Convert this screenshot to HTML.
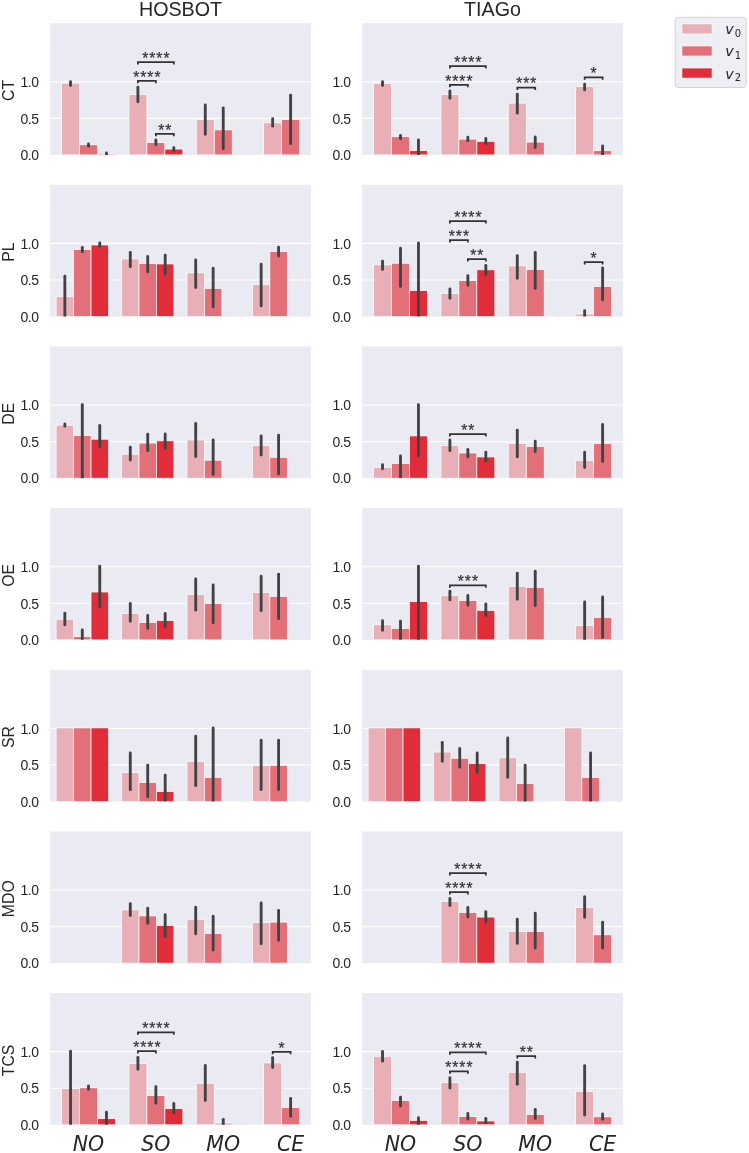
<!DOCTYPE html>
<html><head><meta charset="utf-8"><title>HOSBOT / TIAGo metrics</title>
<style>
html,body{margin:0;padding:0;background:#fff}
svg{display:block}
.s{font-family:"Liberation Sans",Arial,sans-serif}
.m{font-family:"DejaVu Sans",sans-serif;font-style:oblique}
</style></head><body>
<svg width="749" height="1153" viewBox="0 0 749 1153">
<rect width="749" height="1153" fill="#fff"/>
<clipPath id="c00"><rect x="50.1" y="23.2" width="260.8" height="131.7"/></clipPath>
<g>
<rect x="50.1" y="23.2" width="260.8" height="131.7" fill="#EAEAF2"/>
<line x1="50.1" x2="310.9" y1="118.3" y2="118.3" stroke="#fff" stroke-width="1.15"/>
<line x1="50.1" x2="310.9" y1="81.7" y2="81.7" stroke="#fff" stroke-width="1.15"/>
<text x="38.8" y="160.15" text-anchor="end" font-size="14" letter-spacing="-0.35" fill="#262626" class="s">0.0</text>
<text x="38.8" y="123.55" text-anchor="end" font-size="14" letter-spacing="-0.35" fill="#262626" class="s">0.5</text>
<text x="38.8" y="86.95" text-anchor="end" font-size="14" letter-spacing="-0.35" fill="#262626" class="s">1.0</text>
<rect x="61.56" y="83.2" width="17.96" height="71.7" fill="#E8B0B6" stroke="#fff" stroke-width="0.7"/>
<rect x="79.52" y="144.76" width="17.96" height="10.14" fill="#E37079" stroke="#fff" stroke-width="0.7"/>
<rect x="97.48" y="153.91" width="17.96" height="0.99" fill="#E02D39" stroke="#fff" stroke-width="0.7"/>
<rect x="128.93" y="94.48" width="17.96" height="60.42" fill="#E8B0B6" stroke="#fff" stroke-width="0.7"/>
<rect x="146.89" y="142.64" width="17.96" height="12.26" fill="#E37079" stroke="#fff" stroke-width="0.7"/>
<rect x="164.85" y="149.08" width="17.96" height="5.82" fill="#E02D39" stroke="#fff" stroke-width="0.7"/>
<rect x="196.3" y="119.44" width="17.96" height="35.46" fill="#E8B0B6" stroke="#fff" stroke-width="0.7"/>
<rect x="214.26" y="129.9" width="17.96" height="25" fill="#E37079" stroke="#fff" stroke-width="0.7"/>
<rect x="263.67" y="122.8" width="17.96" height="32.1" fill="#E8B0B6" stroke="#fff" stroke-width="0.7"/>
<rect x="281.63" y="119.44" width="17.96" height="35.46" fill="#E37079" stroke="#fff" stroke-width="0.7"/>
<line x1="70.54" x2="70.54" y1="85.39" y2="81.67" clip-path="url(#c00)" stroke="#424242" stroke-width="2.85" stroke-linecap="round"/>
<line x1="88.5" x2="88.5" y1="146.15" y2="143.89" clip-path="url(#c00)" stroke="#424242" stroke-width="2.85" stroke-linecap="round"/>
<line x1="106.46" x2="106.46" y1="155.3" y2="153.04" clip-path="url(#c00)" stroke="#424242" stroke-width="2.85" stroke-linecap="round"/>
<line x1="137.91" x2="137.91" y1="101.86" y2="87.16" clip-path="url(#c00)" stroke="#424242" stroke-width="2.85" stroke-linecap="round"/>
<line x1="155.87" x2="155.87" y1="144.69" y2="139.86" clip-path="url(#c00)" stroke="#424242" stroke-width="2.85" stroke-linecap="round"/>
<line x1="173.83" x2="173.83" y1="150.54" y2="147.55" clip-path="url(#c00)" stroke="#424242" stroke-width="2.85" stroke-linecap="round"/>
<line x1="205.28" x2="205.28" y1="134.22" y2="105.02" clip-path="url(#c00)" stroke="#424242" stroke-width="2.85" stroke-linecap="round"/>
<line x1="223.24" x2="223.24" y1="148.86" y2="107.8" clip-path="url(#c00)" stroke="#424242" stroke-width="2.85" stroke-linecap="round"/>
<line x1="272.65" x2="272.65" y1="126.17" y2="118.63" clip-path="url(#c00)" stroke="#424242" stroke-width="2.85" stroke-linecap="round"/>
<line x1="290.61" x2="290.61" y1="143.66" y2="95.21" clip-path="url(#c00)" stroke="#424242" stroke-width="2.85" stroke-linecap="round"/>
<path d="M137.91 83.25V80.85H155.87V83.25" fill="none" stroke="#333333" stroke-width="1.75" stroke-linejoin="miter"/>
<text x="147.39" y="82.65" text-anchor="middle" font-size="15.6" letter-spacing="1.0" fill="#333333" stroke="#333333" stroke-width="0.25" class="s">****</text>
<path d="M137.91 64.6V62.2H173.83V64.6" fill="none" stroke="#333333" stroke-width="1.75" stroke-linejoin="miter"/>
<text x="156.37" y="64" text-anchor="middle" font-size="15.6" letter-spacing="1.0" fill="#333333" stroke="#333333" stroke-width="0.25" class="s">****</text>
<path d="M155.87 136.2V133.8H173.83V136.2" fill="none" stroke="#333333" stroke-width="1.75" stroke-linejoin="miter"/>
<text x="165.35" y="135.6" text-anchor="middle" font-size="15.6" letter-spacing="1.0" fill="#333333" stroke="#333333" stroke-width="0.25" class="s">**</text>
</g>
<clipPath id="c01"><rect x="362.1" y="23.2" width="260.8" height="131.7"/></clipPath>
<g>
<rect x="362.1" y="23.2" width="260.8" height="131.7" fill="#EAEAF2"/>
<line x1="362.1" x2="622.9" y1="118.3" y2="118.3" stroke="#fff" stroke-width="1.15"/>
<line x1="362.1" x2="622.9" y1="81.7" y2="81.7" stroke="#fff" stroke-width="1.15"/>
<text x="350.8" y="160.15" text-anchor="end" font-size="14" letter-spacing="-0.35" fill="#262626" class="s">0.0</text>
<text x="350.8" y="123.55" text-anchor="end" font-size="14" letter-spacing="-0.35" fill="#262626" class="s">0.5</text>
<text x="350.8" y="86.95" text-anchor="end" font-size="14" letter-spacing="-0.35" fill="#262626" class="s">1.0</text>
<rect x="373.56" y="83.57" width="17.96" height="71.33" fill="#E8B0B6" stroke="#fff" stroke-width="0.7"/>
<rect x="391.52" y="136.71" width="17.96" height="18.19" fill="#E37079" stroke="#fff" stroke-width="0.7"/>
<rect x="409.48" y="150.69" width="17.96" height="4.21" fill="#E02D39" stroke="#fff" stroke-width="0.7"/>
<rect x="440.93" y="94.4" width="17.96" height="60.5" fill="#E8B0B6" stroke="#fff" stroke-width="0.7"/>
<rect x="458.89" y="139.13" width="17.96" height="15.77" fill="#E37079" stroke="#fff" stroke-width="0.7"/>
<rect x="476.85" y="141.32" width="17.96" height="13.58" fill="#E02D39" stroke="#fff" stroke-width="0.7"/>
<rect x="508.3" y="103.11" width="17.96" height="51.79" fill="#E8B0B6" stroke="#fff" stroke-width="0.7"/>
<rect x="526.26" y="142.13" width="17.96" height="12.77" fill="#E37079" stroke="#fff" stroke-width="0.7"/>
<rect x="575.67" y="86.5" width="17.96" height="68.4" fill="#E8B0B6" stroke="#fff" stroke-width="0.7"/>
<rect x="593.63" y="150.69" width="17.96" height="4.21" fill="#E37079" stroke="#fff" stroke-width="0.7"/>
<line x1="382.54" x2="382.54" y1="85.39" y2="81.67" clip-path="url(#c01)" stroke="#424242" stroke-width="2.85" stroke-linecap="round"/>
<line x1="400.5" x2="400.5" y1="138.83" y2="135.47" clip-path="url(#c01)" stroke="#424242" stroke-width="2.85" stroke-linecap="round"/>
<line x1="418.46" x2="418.46" y1="155.3" y2="139.86" clip-path="url(#c01)" stroke="#424242" stroke-width="2.85" stroke-linecap="round"/>
<line x1="449.91" x2="449.91" y1="98.28" y2="91.04" clip-path="url(#c01)" stroke="#424242" stroke-width="2.85" stroke-linecap="round"/>
<line x1="467.87" x2="467.87" y1="140.66" y2="137.22" clip-path="url(#c01)" stroke="#424242" stroke-width="2.85" stroke-linecap="round"/>
<line x1="485.83" x2="485.83" y1="143.59" y2="138.4" clip-path="url(#c01)" stroke="#424242" stroke-width="2.85" stroke-linecap="round"/>
<line x1="517.28" x2="517.28" y1="113.14" y2="94.18" clip-path="url(#c01)" stroke="#424242" stroke-width="2.85" stroke-linecap="round"/>
<line x1="535.24" x2="535.24" y1="147.47" y2="136.93" clip-path="url(#c01)" stroke="#424242" stroke-width="2.85" stroke-linecap="round"/>
<line x1="584.65" x2="584.65" y1="89.93" y2="84.08" clip-path="url(#c01)" stroke="#424242" stroke-width="2.85" stroke-linecap="round"/>
<line x1="602.61" x2="602.61" y1="155.3" y2="145.94" clip-path="url(#c01)" stroke="#424242" stroke-width="2.85" stroke-linecap="round"/>
<path d="M449.91 87.3V84.9H467.87V87.3" fill="none" stroke="#333333" stroke-width="1.75" stroke-linejoin="miter"/>
<text x="459.39" y="86.7" text-anchor="middle" font-size="15.6" letter-spacing="1.0" fill="#333333" stroke="#333333" stroke-width="0.25" class="s">****</text>
<path d="M449.91 68.5V66.1H485.83V68.5" fill="none" stroke="#333333" stroke-width="1.75" stroke-linejoin="miter"/>
<text x="468.37" y="67.9" text-anchor="middle" font-size="15.6" letter-spacing="1.0" fill="#333333" stroke="#333333" stroke-width="0.25" class="s">****</text>
<path d="M517.28 90V87.6H535.24V90" fill="none" stroke="#333333" stroke-width="1.75" stroke-linejoin="miter"/>
<text x="526.76" y="89.4" text-anchor="middle" font-size="15.6" letter-spacing="1.0" fill="#333333" stroke="#333333" stroke-width="0.25" class="s">***</text>
<path d="M584.65 79.8V77.4H602.61V79.8" fill="none" stroke="#333333" stroke-width="1.75" stroke-linejoin="miter"/>
<text x="594.13" y="79.2" text-anchor="middle" font-size="15.6" letter-spacing="1.0" fill="#333333" stroke="#333333" stroke-width="0.25" class="s">*</text>
</g>
<text transform="translate(14.0 90.5) rotate(-90)" text-anchor="middle" font-size="15.8" fill="#262626" class="s">CT</text>
<clipPath id="c10"><rect x="50.1" y="184.85" width="260.8" height="131.7"/></clipPath>
<g>
<rect x="50.1" y="184.85" width="260.8" height="131.7" fill="#EAEAF2"/>
<line x1="50.1" x2="310.9" y1="279.95" y2="279.95" stroke="#fff" stroke-width="1.15"/>
<line x1="50.1" x2="310.9" y1="243.35" y2="243.35" stroke="#fff" stroke-width="1.15"/>
<text x="38.8" y="321.8" text-anchor="end" font-size="14" letter-spacing="-0.35" fill="#262626" class="s">0.0</text>
<text x="38.8" y="285.2" text-anchor="end" font-size="14" letter-spacing="-0.35" fill="#262626" class="s">0.5</text>
<text x="38.8" y="248.6" text-anchor="end" font-size="14" letter-spacing="-0.35" fill="#262626" class="s">1.0</text>
<rect x="56.12" y="296.61" width="17.45" height="19.94" fill="#E8B0B6" stroke="#fff" stroke-width="0.7"/>
<rect x="73.58" y="249.54" width="17.45" height="67.01" fill="#E37079" stroke="#fff" stroke-width="0.7"/>
<rect x="91.03" y="245" width="17.45" height="71.55" fill="#E02D39" stroke="#fff" stroke-width="0.7"/>
<rect x="121.56" y="258.91" width="17.45" height="57.64" fill="#E8B0B6" stroke="#fff" stroke-width="0.7"/>
<rect x="139.01" y="263.45" width="17.45" height="53.1" fill="#E37079" stroke="#fff" stroke-width="0.7"/>
<rect x="156.46" y="263.96" width="17.45" height="52.59" fill="#E02D39" stroke="#fff" stroke-width="0.7"/>
<rect x="186.99" y="272.82" width="17.45" height="43.73" fill="#E8B0B6" stroke="#fff" stroke-width="0.7"/>
<rect x="204.44" y="288.41" width="17.45" height="28.14" fill="#E37079" stroke="#fff" stroke-width="0.7"/>
<rect x="252.42" y="284.75" width="17.45" height="31.8" fill="#E8B0B6" stroke="#fff" stroke-width="0.7"/>
<rect x="269.87" y="251.44" width="17.45" height="65.11" fill="#E37079" stroke="#fff" stroke-width="0.7"/>
<line x1="64.85" x2="64.85" y1="316.95" y2="276.26" clip-path="url(#c10)" stroke="#424242" stroke-width="2.85" stroke-linecap="round"/>
<line x1="82.3" x2="82.3" y1="251.8" y2="247.34" clip-path="url(#c10)" stroke="#424242" stroke-width="2.85" stroke-linecap="round"/>
<line x1="99.75" x2="99.75" y1="246.53" y2="242.95" clip-path="url(#c10)" stroke="#424242" stroke-width="2.85" stroke-linecap="round"/>
<line x1="130.28" x2="130.28" y1="266.66" y2="252.32" clip-path="url(#c10)" stroke="#424242" stroke-width="2.85" stroke-linecap="round"/>
<line x1="147.73" x2="147.73" y1="271.71" y2="256.49" clip-path="url(#c10)" stroke="#424242" stroke-width="2.85" stroke-linecap="round"/>
<line x1="165.18" x2="165.18" y1="273.98" y2="255.1" clip-path="url(#c10)" stroke="#424242" stroke-width="2.85" stroke-linecap="round"/>
<line x1="195.71" x2="195.71" y1="287.52" y2="259.93" clip-path="url(#c10)" stroke="#424242" stroke-width="2.85" stroke-linecap="round"/>
<line x1="213.16" x2="213.16" y1="306.78" y2="268.28" clip-path="url(#c10)" stroke="#424242" stroke-width="2.85" stroke-linecap="round"/>
<line x1="261.14" x2="261.14" y1="305.9" y2="264.1" clip-path="url(#c10)" stroke="#424242" stroke-width="2.85" stroke-linecap="round"/>
<line x1="278.59" x2="278.59" y1="256.05" y2="247.27" clip-path="url(#c10)" stroke="#424242" stroke-width="2.85" stroke-linecap="round"/>
</g>
<clipPath id="c11"><rect x="362.1" y="184.85" width="260.8" height="131.7"/></clipPath>
<g>
<rect x="362.1" y="184.85" width="260.8" height="131.7" fill="#EAEAF2"/>
<line x1="362.1" x2="622.9" y1="279.95" y2="279.95" stroke="#fff" stroke-width="1.15"/>
<line x1="362.1" x2="622.9" y1="243.35" y2="243.35" stroke="#fff" stroke-width="1.15"/>
<text x="350.8" y="321.8" text-anchor="end" font-size="14" letter-spacing="-0.35" fill="#262626" class="s">0.0</text>
<text x="350.8" y="285.2" text-anchor="end" font-size="14" letter-spacing="-0.35" fill="#262626" class="s">0.5</text>
<text x="350.8" y="248.6" text-anchor="end" font-size="14" letter-spacing="-0.35" fill="#262626" class="s">1.0</text>
<rect x="373.56" y="264.84" width="17.96" height="51.71" fill="#E8B0B6" stroke="#fff" stroke-width="0.7"/>
<rect x="391.52" y="263.23" width="17.96" height="53.32" fill="#E37079" stroke="#fff" stroke-width="0.7"/>
<rect x="409.48" y="290.53" width="17.96" height="26.02" fill="#E02D39" stroke="#fff" stroke-width="0.7"/>
<rect x="440.93" y="293.6" width="17.96" height="22.95" fill="#E8B0B6" stroke="#fff" stroke-width="0.7"/>
<rect x="458.89" y="280.57" width="17.96" height="35.98" fill="#E37079" stroke="#fff" stroke-width="0.7"/>
<rect x="476.85" y="269.81" width="17.96" height="46.74" fill="#E02D39" stroke="#fff" stroke-width="0.7"/>
<rect x="508.3" y="265.86" width="17.96" height="50.69" fill="#E8B0B6" stroke="#fff" stroke-width="0.7"/>
<rect x="526.26" y="269.52" width="17.96" height="47.03" fill="#E37079" stroke="#fff" stroke-width="0.7"/>
<rect x="575.67" y="313.95" width="17.96" height="2.6" fill="#E8B0B6" stroke="#fff" stroke-width="0.7"/>
<rect x="593.63" y="286.5" width="17.96" height="30.05" fill="#E37079" stroke="#fff" stroke-width="0.7"/>
<line x1="382.54" x2="382.54" y1="269.44" y2="261.18" clip-path="url(#c11)" stroke="#424242" stroke-width="2.85" stroke-linecap="round"/>
<line x1="400.5" x2="400.5" y1="286.43" y2="248.15" clip-path="url(#c11)" stroke="#424242" stroke-width="2.85" stroke-linecap="round"/>
<line x1="418.46" x2="418.46" y1="316.95" y2="242.95" clip-path="url(#c11)" stroke="#424242" stroke-width="2.85" stroke-linecap="round"/>
<line x1="449.91" x2="449.91" y1="298.28" y2="288.99" clip-path="url(#c11)" stroke="#424242" stroke-width="2.85" stroke-linecap="round"/>
<line x1="467.87" x2="467.87" y1="285.25" y2="275.6" clip-path="url(#c11)" stroke="#424242" stroke-width="2.85" stroke-linecap="round"/>
<line x1="485.83" x2="485.83" y1="274.49" y2="265.35" clip-path="url(#c11)" stroke="#424242" stroke-width="2.85" stroke-linecap="round"/>
<line x1="517.28" x2="517.28" y1="278.3" y2="255.61" clip-path="url(#c11)" stroke="#424242" stroke-width="2.85" stroke-linecap="round"/>
<line x1="535.24" x2="535.24" y1="288.33" y2="252.32" clip-path="url(#c11)" stroke="#424242" stroke-width="2.85" stroke-linecap="round"/>
<line x1="584.65" x2="584.65" y1="316.95" y2="310.66" clip-path="url(#c11)" stroke="#424242" stroke-width="2.85" stroke-linecap="round"/>
<line x1="602.61" x2="602.61" y1="299.82" y2="267.91" clip-path="url(#c11)" stroke="#424242" stroke-width="2.85" stroke-linecap="round"/>
<path d="M449.91 223.4V221H485.83V223.4" fill="none" stroke="#333333" stroke-width="1.75" stroke-linejoin="miter"/>
<text x="468.37" y="222.8" text-anchor="middle" font-size="15.6" letter-spacing="1.0" fill="#333333" stroke="#333333" stroke-width="0.25" class="s">****</text>
<path d="M449.91 242.5V240.1H467.87V242.5" fill="none" stroke="#333333" stroke-width="1.75" stroke-linejoin="miter"/>
<text x="459.39" y="241.9" text-anchor="middle" font-size="15.6" letter-spacing="1.0" fill="#333333" stroke="#333333" stroke-width="0.25" class="s">***</text>
<path d="M467.87 261.4V259H485.83V261.4" fill="none" stroke="#333333" stroke-width="1.75" stroke-linejoin="miter"/>
<text x="477.35" y="260.8" text-anchor="middle" font-size="15.6" letter-spacing="1.0" fill="#333333" stroke="#333333" stroke-width="0.25" class="s">**</text>
<path d="M584.65 264.4V262H602.61V264.4" fill="none" stroke="#333333" stroke-width="1.75" stroke-linejoin="miter"/>
<text x="594.13" y="263.8" text-anchor="middle" font-size="15.6" letter-spacing="1.0" fill="#333333" stroke="#333333" stroke-width="0.25" class="s">*</text>
</g>
<text transform="translate(14.0 252.15) rotate(-90)" text-anchor="middle" font-size="15.8" fill="#262626" class="s">PL</text>
<clipPath id="c20"><rect x="50.1" y="346.5" width="260.8" height="131.7"/></clipPath>
<g>
<rect x="50.1" y="346.5" width="260.8" height="131.7" fill="#EAEAF2"/>
<line x1="50.1" x2="310.9" y1="441.6" y2="441.6" stroke="#fff" stroke-width="1.15"/>
<line x1="50.1" x2="310.9" y1="405" y2="405" stroke="#fff" stroke-width="1.15"/>
<text x="38.8" y="483.45" text-anchor="end" font-size="14" letter-spacing="-0.35" fill="#262626" class="s">0.0</text>
<text x="38.8" y="446.85" text-anchor="end" font-size="14" letter-spacing="-0.35" fill="#262626" class="s">0.5</text>
<text x="38.8" y="410.25" text-anchor="end" font-size="14" letter-spacing="-0.35" fill="#262626" class="s">1.0</text>
<rect x="56.12" y="425.17" width="17.45" height="53.03" fill="#E8B0B6" stroke="#fff" stroke-width="0.7"/>
<rect x="73.58" y="435.64" width="17.45" height="42.56" fill="#E37079" stroke="#fff" stroke-width="0.7"/>
<rect x="91.03" y="439.22" width="17.45" height="38.98" fill="#E02D39" stroke="#fff" stroke-width="0.7"/>
<rect x="121.56" y="454.16" width="17.45" height="24.04" fill="#E8B0B6" stroke="#fff" stroke-width="0.7"/>
<rect x="139.01" y="443.1" width="17.45" height="35.1" fill="#E37079" stroke="#fff" stroke-width="0.7"/>
<rect x="156.46" y="440.83" width="17.45" height="37.37" fill="#E02D39" stroke="#fff" stroke-width="0.7"/>
<rect x="186.99" y="439.96" width="17.45" height="38.24" fill="#E8B0B6" stroke="#fff" stroke-width="0.7"/>
<rect x="204.44" y="460.23" width="17.45" height="17.97" fill="#E37079" stroke="#fff" stroke-width="0.7"/>
<rect x="252.42" y="445.52" width="17.45" height="32.68" fill="#E8B0B6" stroke="#fff" stroke-width="0.7"/>
<rect x="269.87" y="457.3" width="17.45" height="20.9" fill="#E37079" stroke="#fff" stroke-width="0.7"/>
<line x1="64.85" x2="64.85" y1="426.19" y2="424" clip-path="url(#c20)" stroke="#424242" stroke-width="2.85" stroke-linecap="round"/>
<line x1="82.3" x2="82.3" y1="478.6" y2="404.6" clip-path="url(#c20)" stroke="#424242" stroke-width="2.85" stroke-linecap="round"/>
<line x1="99.75" x2="99.75" y1="446.47" y2="425.54" clip-path="url(#c20)" stroke="#424242" stroke-width="2.85" stroke-linecap="round"/>
<line x1="130.28" x2="130.28" y1="460.01" y2="447.28" clip-path="url(#c20)" stroke="#424242" stroke-width="2.85" stroke-linecap="round"/>
<line x1="147.73" x2="147.73" y1="450.64" y2="434.25" clip-path="url(#c20)" stroke="#424242" stroke-width="2.85" stroke-linecap="round"/>
<line x1="165.18" x2="165.18" y1="448.22" y2="433.88" clip-path="url(#c20)" stroke="#424242" stroke-width="2.85" stroke-linecap="round"/>
<line x1="195.71" x2="195.71" y1="456.57" y2="423.49" clip-path="url(#c20)" stroke="#424242" stroke-width="2.85" stroke-linecap="round"/>
<line x1="213.16" x2="213.16" y1="474.43" y2="439.96" clip-path="url(#c20)" stroke="#424242" stroke-width="2.85" stroke-linecap="round"/>
<line x1="261.14" x2="261.14" y1="454.96" y2="436" clip-path="url(#c20)" stroke="#424242" stroke-width="2.85" stroke-linecap="round"/>
<line x1="278.59" x2="278.59" y1="473.92" y2="435.12" clip-path="url(#c20)" stroke="#424242" stroke-width="2.85" stroke-linecap="round"/>
</g>
<clipPath id="c21"><rect x="362.1" y="346.5" width="260.8" height="131.7"/></clipPath>
<g>
<rect x="362.1" y="346.5" width="260.8" height="131.7" fill="#EAEAF2"/>
<line x1="362.1" x2="622.9" y1="441.6" y2="441.6" stroke="#fff" stroke-width="1.15"/>
<line x1="362.1" x2="622.9" y1="405" y2="405" stroke="#fff" stroke-width="1.15"/>
<text x="350.8" y="483.45" text-anchor="end" font-size="14" letter-spacing="-0.35" fill="#262626" class="s">0.0</text>
<text x="350.8" y="446.85" text-anchor="end" font-size="14" letter-spacing="-0.35" fill="#262626" class="s">0.5</text>
<text x="350.8" y="410.25" text-anchor="end" font-size="14" letter-spacing="-0.35" fill="#262626" class="s">1.0</text>
<rect x="373.56" y="467.41" width="17.96" height="10.79" fill="#E8B0B6" stroke="#fff" stroke-width="0.7"/>
<rect x="391.52" y="463.6" width="17.96" height="14.6" fill="#E37079" stroke="#fff" stroke-width="0.7"/>
<rect x="409.48" y="435.93" width="17.96" height="42.27" fill="#E02D39" stroke="#fff" stroke-width="0.7"/>
<rect x="440.93" y="445.52" width="17.96" height="32.68" fill="#E8B0B6" stroke="#fff" stroke-width="0.7"/>
<rect x="458.89" y="452.99" width="17.96" height="25.21" fill="#E37079" stroke="#fff" stroke-width="0.7"/>
<rect x="476.85" y="456.94" width="17.96" height="21.26" fill="#E02D39" stroke="#fff" stroke-width="0.7"/>
<rect x="508.3" y="443.4" width="17.96" height="34.8" fill="#E8B0B6" stroke="#fff" stroke-width="0.7"/>
<rect x="526.26" y="446.4" width="17.96" height="31.8" fill="#E37079" stroke="#fff" stroke-width="0.7"/>
<rect x="575.67" y="460.45" width="17.96" height="17.75" fill="#E8B0B6" stroke="#fff" stroke-width="0.7"/>
<rect x="593.63" y="443.4" width="17.96" height="34.8" fill="#E37079" stroke="#fff" stroke-width="0.7"/>
<line x1="382.54" x2="382.54" y1="468.72" y2="464.77" clip-path="url(#c21)" stroke="#424242" stroke-width="2.85" stroke-linecap="round"/>
<line x1="400.5" x2="400.5" y1="477.14" y2="455.91" clip-path="url(#c21)" stroke="#424242" stroke-width="2.85" stroke-linecap="round"/>
<line x1="418.46" x2="418.46" y1="455.91" y2="404.6" clip-path="url(#c21)" stroke="#424242" stroke-width="2.85" stroke-linecap="round"/>
<line x1="449.91" x2="449.91" y1="450.64" y2="439.96" clip-path="url(#c21)" stroke="#424242" stroke-width="2.85" stroke-linecap="round"/>
<line x1="467.87" x2="467.87" y1="457.08" y2="449.33" clip-path="url(#c21)" stroke="#424242" stroke-width="2.85" stroke-linecap="round"/>
<line x1="485.83" x2="485.83" y1="461.03" y2="452.11" clip-path="url(#c21)" stroke="#424242" stroke-width="2.85" stroke-linecap="round"/>
<line x1="517.28" x2="517.28" y1="456.71" y2="430.07" clip-path="url(#c21)" stroke="#424242" stroke-width="2.85" stroke-linecap="round"/>
<line x1="535.24" x2="535.24" y1="451.66" y2="441.2" clip-path="url(#c21)" stroke="#424242" stroke-width="2.85" stroke-linecap="round"/>
<line x1="584.65" x2="584.65" y1="467.47" y2="452.11" clip-path="url(#c21)" stroke="#424242" stroke-width="2.85" stroke-linecap="round"/>
<line x1="602.61" x2="602.61" y1="461.4" y2="424.51" clip-path="url(#c21)" stroke="#424242" stroke-width="2.85" stroke-linecap="round"/>
<path d="M449.91 436.4V434H485.83V436.4" fill="none" stroke="#333333" stroke-width="1.75" stroke-linejoin="miter"/>
<text x="468.37" y="435.8" text-anchor="middle" font-size="15.6" letter-spacing="1.0" fill="#333333" stroke="#333333" stroke-width="0.25" class="s">**</text>
</g>
<text transform="translate(14.0 413.8) rotate(-90)" text-anchor="middle" font-size="15.8" fill="#262626" class="s">DE</text>
<clipPath id="c30"><rect x="50.1" y="508.15" width="260.8" height="131.7"/></clipPath>
<g>
<rect x="50.1" y="508.15" width="260.8" height="131.7" fill="#EAEAF2"/>
<line x1="50.1" x2="310.9" y1="603.25" y2="603.25" stroke="#fff" stroke-width="1.15"/>
<line x1="50.1" x2="310.9" y1="566.65" y2="566.65" stroke="#fff" stroke-width="1.15"/>
<text x="38.8" y="645.1" text-anchor="end" font-size="14" letter-spacing="-0.35" fill="#262626" class="s">0.0</text>
<text x="38.8" y="608.5" text-anchor="end" font-size="14" letter-spacing="-0.35" fill="#262626" class="s">0.5</text>
<text x="38.8" y="571.9" text-anchor="end" font-size="14" letter-spacing="-0.35" fill="#262626" class="s">1.0</text>
<rect x="56.12" y="619.25" width="17.45" height="20.6" fill="#E8B0B6" stroke="#fff" stroke-width="0.7"/>
<rect x="73.58" y="636.67" width="17.45" height="3.18" fill="#E37079" stroke="#fff" stroke-width="0.7"/>
<rect x="91.03" y="592.02" width="17.45" height="47.83" fill="#E02D39" stroke="#fff" stroke-width="0.7"/>
<rect x="121.56" y="613.54" width="17.45" height="26.31" fill="#E8B0B6" stroke="#fff" stroke-width="0.7"/>
<rect x="139.01" y="622.39" width="17.45" height="17.46" fill="#E37079" stroke="#fff" stroke-width="0.7"/>
<rect x="156.46" y="620.49" width="17.45" height="19.36" fill="#E02D39" stroke="#fff" stroke-width="0.7"/>
<rect x="186.99" y="594.43" width="17.45" height="45.42" fill="#E8B0B6" stroke="#fff" stroke-width="0.7"/>
<rect x="204.44" y="603.66" width="17.45" height="36.19" fill="#E37079" stroke="#fff" stroke-width="0.7"/>
<rect x="252.42" y="592.38" width="17.45" height="47.47" fill="#E8B0B6" stroke="#fff" stroke-width="0.7"/>
<rect x="269.87" y="596.34" width="17.45" height="43.51" fill="#E37079" stroke="#fff" stroke-width="0.7"/>
<line x1="64.85" x2="64.85" y1="624.73" y2="613.17" clip-path="url(#c30)" stroke="#424242" stroke-width="2.85" stroke-linecap="round"/>
<line x1="82.3" x2="82.3" y1="640.25" y2="629.86" clip-path="url(#c30)" stroke="#424242" stroke-width="2.85" stroke-linecap="round"/>
<line x1="99.75" x2="99.75" y1="607.02" y2="566.25" clip-path="url(#c30)" stroke="#424242" stroke-width="2.85" stroke-linecap="round"/>
<line x1="130.28" x2="130.28" y1="621.29" y2="603.51" clip-path="url(#c30)" stroke="#424242" stroke-width="2.85" stroke-linecap="round"/>
<line x1="147.73" x2="147.73" y1="628.39" y2="615.44" clip-path="url(#c30)" stroke="#424242" stroke-width="2.85" stroke-linecap="round"/>
<line x1="165.18" x2="165.18" y1="626.49" y2="613.39" clip-path="url(#c30)" stroke="#424242" stroke-width="2.85" stroke-linecap="round"/>
<line x1="195.71" x2="195.71" y1="610.16" y2="578.99" clip-path="url(#c30)" stroke="#424242" stroke-width="2.85" stroke-linecap="round"/>
<line x1="213.16" x2="213.16" y1="622.83" y2="584.92" clip-path="url(#c30)" stroke="#424242" stroke-width="2.85" stroke-linecap="round"/>
<line x1="261.14" x2="261.14" y1="610.68" y2="576.21" clip-path="url(#c30)" stroke="#424242" stroke-width="2.85" stroke-linecap="round"/>
<line x1="278.59" x2="278.59" y1="618.66" y2="574.16" clip-path="url(#c30)" stroke="#424242" stroke-width="2.85" stroke-linecap="round"/>
</g>
<clipPath id="c31"><rect x="362.1" y="508.15" width="260.8" height="131.7"/></clipPath>
<g>
<rect x="362.1" y="508.15" width="260.8" height="131.7" fill="#EAEAF2"/>
<line x1="362.1" x2="622.9" y1="603.25" y2="603.25" stroke="#fff" stroke-width="1.15"/>
<line x1="362.1" x2="622.9" y1="566.65" y2="566.65" stroke="#fff" stroke-width="1.15"/>
<text x="350.8" y="645.1" text-anchor="end" font-size="14" letter-spacing="-0.35" fill="#262626" class="s">0.0</text>
<text x="350.8" y="608.5" text-anchor="end" font-size="14" letter-spacing="-0.35" fill="#262626" class="s">0.5</text>
<text x="350.8" y="571.9" text-anchor="end" font-size="14" letter-spacing="-0.35" fill="#262626" class="s">1.0</text>
<rect x="373.56" y="624.81" width="17.96" height="15.04" fill="#E8B0B6" stroke="#fff" stroke-width="0.7"/>
<rect x="391.52" y="628.47" width="17.96" height="11.38" fill="#E37079" stroke="#fff" stroke-width="0.7"/>
<rect x="409.48" y="601.53" width="17.96" height="38.32" fill="#E02D39" stroke="#fff" stroke-width="0.7"/>
<rect x="440.93" y="595.68" width="17.96" height="44.17" fill="#E8B0B6" stroke="#fff" stroke-width="0.7"/>
<rect x="458.89" y="600.51" width="17.96" height="39.34" fill="#E37079" stroke="#fff" stroke-width="0.7"/>
<rect x="476.85" y="610.39" width="17.96" height="29.46" fill="#E02D39" stroke="#fff" stroke-width="0.7"/>
<rect x="508.3" y="586.31" width="17.96" height="53.54" fill="#E8B0B6" stroke="#fff" stroke-width="0.7"/>
<rect x="526.26" y="587.33" width="17.96" height="52.52" fill="#E37079" stroke="#fff" stroke-width="0.7"/>
<rect x="575.67" y="625.69" width="17.96" height="14.16" fill="#E8B0B6" stroke="#fff" stroke-width="0.7"/>
<rect x="593.63" y="617.34" width="17.96" height="22.51" fill="#E37079" stroke="#fff" stroke-width="0.7"/>
<line x1="382.54" x2="382.54" y1="630.29" y2="620.64" clip-path="url(#c31)" stroke="#424242" stroke-width="2.85" stroke-linecap="round"/>
<line x1="400.5" x2="400.5" y1="640.25" y2="621.22" clip-path="url(#c31)" stroke="#424242" stroke-width="2.85" stroke-linecap="round"/>
<line x1="418.46" x2="418.46" y1="640.25" y2="566.25" clip-path="url(#c31)" stroke="#424242" stroke-width="2.85" stroke-linecap="round"/>
<line x1="449.91" x2="449.91" y1="599.92" y2="591.14" clip-path="url(#c31)" stroke="#424242" stroke-width="2.85" stroke-linecap="round"/>
<line x1="467.87" x2="467.87" y1="605.33" y2="595.46" clip-path="url(#c31)" stroke="#424242" stroke-width="2.85" stroke-linecap="round"/>
<line x1="485.83" x2="485.83" y1="615.58" y2="604.02" clip-path="url(#c31)" stroke="#424242" stroke-width="2.85" stroke-linecap="round"/>
<line x1="517.28" x2="517.28" y1="599.26" y2="573.28" clip-path="url(#c31)" stroke="#424242" stroke-width="2.85" stroke-linecap="round"/>
<line x1="535.24" x2="535.24" y1="605.48" y2="571.15" clip-path="url(#c31)" stroke="#424242" stroke-width="2.85" stroke-linecap="round"/>
<line x1="584.65" x2="584.65" y1="640.25" y2="601.9" clip-path="url(#c31)" stroke="#424242" stroke-width="2.85" stroke-linecap="round"/>
<line x1="602.61" x2="602.61" y1="637.61" y2="596.92" clip-path="url(#c31)" stroke="#424242" stroke-width="2.85" stroke-linecap="round"/>
<path d="M449.91 587.7V585.3H485.83V587.7" fill="none" stroke="#333333" stroke-width="1.75" stroke-linejoin="miter"/>
<text x="468.37" y="587.1" text-anchor="middle" font-size="15.6" letter-spacing="1.0" fill="#333333" stroke="#333333" stroke-width="0.25" class="s">***</text>
</g>
<text transform="translate(14.0 575.45) rotate(-90)" text-anchor="middle" font-size="15.8" fill="#262626" class="s">OE</text>
<clipPath id="c40"><rect x="50.1" y="669.8" width="260.8" height="131.7"/></clipPath>
<g>
<rect x="50.1" y="669.8" width="260.8" height="131.7" fill="#EAEAF2"/>
<line x1="50.1" x2="310.9" y1="764.9" y2="764.9" stroke="#fff" stroke-width="1.15"/>
<line x1="50.1" x2="310.9" y1="728.3" y2="728.3" stroke="#fff" stroke-width="1.15"/>
<text x="38.8" y="806.75" text-anchor="end" font-size="14" letter-spacing="-0.35" fill="#262626" class="s">0.0</text>
<text x="38.8" y="770.15" text-anchor="end" font-size="14" letter-spacing="-0.35" fill="#262626" class="s">0.5</text>
<text x="38.8" y="733.55" text-anchor="end" font-size="14" letter-spacing="-0.35" fill="#262626" class="s">1.0</text>
<rect x="56.12" y="727.9" width="17.45" height="73.6" fill="#E8B0B6" stroke="#fff" stroke-width="0.7"/>
<rect x="73.58" y="727.9" width="17.45" height="73.6" fill="#E37079" stroke="#fff" stroke-width="0.7"/>
<rect x="91.03" y="727.9" width="17.45" height="73.6" fill="#E02D39" stroke="#fff" stroke-width="0.7"/>
<rect x="121.56" y="772.55" width="17.45" height="28.95" fill="#E8B0B6" stroke="#fff" stroke-width="0.7"/>
<rect x="139.01" y="782.43" width="17.45" height="19.07" fill="#E37079" stroke="#fff" stroke-width="0.7"/>
<rect x="156.46" y="791.44" width="17.45" height="10.06" fill="#E02D39" stroke="#fff" stroke-width="0.7"/>
<rect x="186.99" y="761.28" width="17.45" height="40.22" fill="#E8B0B6" stroke="#fff" stroke-width="0.7"/>
<rect x="204.44" y="777.38" width="17.45" height="24.12" fill="#E37079" stroke="#fff" stroke-width="0.7"/>
<rect x="252.42" y="765.45" width="17.45" height="36.05" fill="#E8B0B6" stroke="#fff" stroke-width="0.7"/>
<rect x="269.87" y="765.45" width="17.45" height="36.05" fill="#E37079" stroke="#fff" stroke-width="0.7"/>
<line x1="130.28" x2="130.28" y1="789.68" y2="752.93" clip-path="url(#c40)" stroke="#424242" stroke-width="2.85" stroke-linecap="round"/>
<line x1="147.73" x2="147.73" y1="796.78" y2="765.09" clip-path="url(#c40)" stroke="#424242" stroke-width="2.85" stroke-linecap="round"/>
<line x1="165.18" x2="165.18" y1="801.9" y2="775.11" clip-path="url(#c40)" stroke="#424242" stroke-width="2.85" stroke-linecap="round"/>
<line x1="195.71" x2="195.71" y1="785.65" y2="736.1" clip-path="url(#c40)" stroke="#424242" stroke-width="2.85" stroke-linecap="round"/>
<line x1="213.16" x2="213.16" y1="801.9" y2="727.9" clip-path="url(#c40)" stroke="#424242" stroke-width="2.85" stroke-linecap="round"/>
<line x1="261.14" x2="261.14" y1="789.68" y2="740.27" clip-path="url(#c40)" stroke="#424242" stroke-width="2.85" stroke-linecap="round"/>
<line x1="278.59" x2="278.59" y1="789.68" y2="740.27" clip-path="url(#c40)" stroke="#424242" stroke-width="2.85" stroke-linecap="round"/>
</g>
<clipPath id="c41"><rect x="362.1" y="669.8" width="260.8" height="131.7"/></clipPath>
<g>
<rect x="362.1" y="669.8" width="260.8" height="131.7" fill="#EAEAF2"/>
<line x1="362.1" x2="622.9" y1="764.9" y2="764.9" stroke="#fff" stroke-width="1.15"/>
<line x1="362.1" x2="622.9" y1="728.3" y2="728.3" stroke="#fff" stroke-width="1.15"/>
<text x="350.8" y="806.75" text-anchor="end" font-size="14" letter-spacing="-0.35" fill="#262626" class="s">0.0</text>
<text x="350.8" y="770.15" text-anchor="end" font-size="14" letter-spacing="-0.35" fill="#262626" class="s">0.5</text>
<text x="350.8" y="733.55" text-anchor="end" font-size="14" letter-spacing="-0.35" fill="#262626" class="s">1.0</text>
<rect x="368.12" y="727.9" width="17.45" height="73.6" fill="#E8B0B6" stroke="#fff" stroke-width="0.7"/>
<rect x="385.57" y="727.9" width="17.45" height="73.6" fill="#E37079" stroke="#fff" stroke-width="0.7"/>
<rect x="403.02" y="727.9" width="17.45" height="73.6" fill="#E02D39" stroke="#fff" stroke-width="0.7"/>
<rect x="433.56" y="752.06" width="17.45" height="49.44" fill="#E8B0B6" stroke="#fff" stroke-width="0.7"/>
<rect x="451" y="758.28" width="17.45" height="43.22" fill="#E37079" stroke="#fff" stroke-width="0.7"/>
<rect x="468.45" y="763.69" width="17.45" height="37.81" fill="#E02D39" stroke="#fff" stroke-width="0.7"/>
<rect x="498.99" y="757.77" width="17.45" height="43.73" fill="#E8B0B6" stroke="#fff" stroke-width="0.7"/>
<rect x="516.44" y="783.46" width="17.45" height="18.04" fill="#E37079" stroke="#fff" stroke-width="0.7"/>
<rect x="564.41" y="727.9" width="17.45" height="73.6" fill="#E8B0B6" stroke="#fff" stroke-width="0.7"/>
<rect x="581.87" y="777.38" width="17.45" height="24.12" fill="#E37079" stroke="#fff" stroke-width="0.7"/>
<line x1="442.28" x2="442.28" y1="761.2" y2="742.32" clip-path="url(#c41)" stroke="#424242" stroke-width="2.85" stroke-linecap="round"/>
<line x1="459.73" x2="459.73" y1="767.28" y2="748.4" clip-path="url(#c41)" stroke="#424242" stroke-width="2.85" stroke-linecap="round"/>
<line x1="477.18" x2="477.18" y1="772.62" y2="752.93" clip-path="url(#c41)" stroke="#424242" stroke-width="2.85" stroke-linecap="round"/>
<line x1="507.71" x2="507.71" y1="777.3" y2="738" clip-path="url(#c41)" stroke="#424242" stroke-width="2.85" stroke-linecap="round"/>
<line x1="525.16" x2="525.16" y1="801.9" y2="765.09" clip-path="url(#c41)" stroke="#424242" stroke-width="2.85" stroke-linecap="round"/>
<line x1="590.59" x2="590.59" y1="801.9" y2="752.93" clip-path="url(#c41)" stroke="#424242" stroke-width="2.85" stroke-linecap="round"/>
</g>
<text transform="translate(14.0 737.1) rotate(-90)" text-anchor="middle" font-size="15.8" fill="#262626" class="s">SR</text>
<clipPath id="c50"><rect x="50.1" y="831.45" width="260.8" height="131.7"/></clipPath>
<g>
<rect x="50.1" y="831.45" width="260.8" height="131.7" fill="#EAEAF2"/>
<line x1="50.1" x2="310.9" y1="926.55" y2="926.55" stroke="#fff" stroke-width="1.15"/>
<line x1="50.1" x2="310.9" y1="889.95" y2="889.95" stroke="#fff" stroke-width="1.15"/>
<text x="38.8" y="968.4" text-anchor="end" font-size="14" letter-spacing="-0.35" fill="#262626" class="s">0.0</text>
<text x="38.8" y="931.8" text-anchor="end" font-size="14" letter-spacing="-0.35" fill="#262626" class="s">0.5</text>
<text x="38.8" y="895.2" text-anchor="end" font-size="14" letter-spacing="-0.35" fill="#262626" class="s">1.0</text>
<rect x="121.56" y="909.83" width="17.45" height="53.32" fill="#E8B0B6" stroke="#fff" stroke-width="0.7"/>
<rect x="139.01" y="915.9" width="17.45" height="47.25" fill="#E37079" stroke="#fff" stroke-width="0.7"/>
<rect x="156.46" y="925.42" width="17.45" height="37.73" fill="#E02D39" stroke="#fff" stroke-width="0.7"/>
<rect x="186.99" y="919.34" width="17.45" height="43.81" fill="#E8B0B6" stroke="#fff" stroke-width="0.7"/>
<rect x="204.44" y="933.47" width="17.45" height="29.68" fill="#E37079" stroke="#fff" stroke-width="0.7"/>
<rect x="252.42" y="922.64" width="17.45" height="40.51" fill="#E8B0B6" stroke="#fff" stroke-width="0.7"/>
<rect x="269.87" y="922.12" width="17.45" height="41.03" fill="#E37079" stroke="#fff" stroke-width="0.7"/>
<line x1="130.28" x2="130.28" y1="915.6" y2="903.75" clip-path="url(#c50)" stroke="#424242" stroke-width="2.85" stroke-linecap="round"/>
<line x1="147.73" x2="147.73" y1="923.29" y2="908.22" clip-path="url(#c50)" stroke="#424242" stroke-width="2.85" stroke-linecap="round"/>
<line x1="165.18" x2="165.18" y1="936.61" y2="914.66" clip-path="url(#c50)" stroke="#424242" stroke-width="2.85" stroke-linecap="round"/>
<line x1="195.71" x2="195.71" y1="933.83" y2="907.19" clip-path="url(#c50)" stroke="#424242" stroke-width="2.85" stroke-linecap="round"/>
<line x1="213.16" x2="213.16" y1="950.01" y2="916.05" clip-path="url(#c50)" stroke="#424242" stroke-width="2.85" stroke-linecap="round"/>
<line x1="261.14" x2="261.14" y1="943.79" y2="902.87" clip-path="url(#c50)" stroke="#424242" stroke-width="2.85" stroke-linecap="round"/>
<line x1="278.59" x2="278.59" y1="940.13" y2="910.34" clip-path="url(#c50)" stroke="#424242" stroke-width="2.85" stroke-linecap="round"/>
</g>
<clipPath id="c51"><rect x="362.1" y="831.45" width="260.8" height="131.7"/></clipPath>
<g>
<rect x="362.1" y="831.45" width="260.8" height="131.7" fill="#EAEAF2"/>
<line x1="362.1" x2="622.9" y1="926.55" y2="926.55" stroke="#fff" stroke-width="1.15"/>
<line x1="362.1" x2="622.9" y1="889.95" y2="889.95" stroke="#fff" stroke-width="1.15"/>
<text x="350.8" y="968.4" text-anchor="end" font-size="14" letter-spacing="-0.35" fill="#262626" class="s">0.0</text>
<text x="350.8" y="931.8" text-anchor="end" font-size="14" letter-spacing="-0.35" fill="#262626" class="s">0.5</text>
<text x="350.8" y="895.2" text-anchor="end" font-size="14" letter-spacing="-0.35" fill="#262626" class="s">1.0</text>
<rect x="440.93" y="901.48" width="17.96" height="61.67" fill="#E8B0B6" stroke="#fff" stroke-width="0.7"/>
<rect x="458.89" y="912.39" width="17.96" height="50.76" fill="#E37079" stroke="#fff" stroke-width="0.7"/>
<rect x="476.85" y="917.07" width="17.96" height="46.08" fill="#E02D39" stroke="#fff" stroke-width="0.7"/>
<rect x="508.3" y="931.35" width="17.96" height="31.8" fill="#E8B0B6" stroke="#fff" stroke-width="0.7"/>
<rect x="526.26" y="931.49" width="17.96" height="31.66" fill="#E37079" stroke="#fff" stroke-width="0.7"/>
<rect x="575.67" y="907.56" width="17.96" height="55.59" fill="#E8B0B6" stroke="#fff" stroke-width="0.7"/>
<rect x="593.63" y="934.79" width="17.96" height="28.36" fill="#E37079" stroke="#fff" stroke-width="0.7"/>
<line x1="449.91" x2="449.91" y1="905.58" y2="898.48" clip-path="url(#c51)" stroke="#424242" stroke-width="2.85" stroke-linecap="round"/>
<line x1="467.87" x2="467.87" y1="916.99" y2="907.34" clip-path="url(#c51)" stroke="#424242" stroke-width="2.85" stroke-linecap="round"/>
<line x1="485.83" x2="485.83" y1="921.9" y2="911.73" clip-path="url(#c51)" stroke="#424242" stroke-width="2.85" stroke-linecap="round"/>
<line x1="517.28" x2="517.28" y1="943.42" y2="919.2" clip-path="url(#c51)" stroke="#424242" stroke-width="2.85" stroke-linecap="round"/>
<line x1="535.24" x2="535.24" y1="947.96" y2="913.27" clip-path="url(#c51)" stroke="#424242" stroke-width="2.85" stroke-linecap="round"/>
<line x1="584.65" x2="584.65" y1="917.36" y2="896.58" clip-path="url(#c51)" stroke="#424242" stroke-width="2.85" stroke-linecap="round"/>
<line x1="602.61" x2="602.61" y1="947.96" y2="922.27" clip-path="url(#c51)" stroke="#424242" stroke-width="2.85" stroke-linecap="round"/>
<path d="M449.91 894.5V892.1H467.87V894.5" fill="none" stroke="#333333" stroke-width="1.75" stroke-linejoin="miter"/>
<text x="459.39" y="893.9" text-anchor="middle" font-size="15.6" letter-spacing="1.0" fill="#333333" stroke="#333333" stroke-width="0.25" class="s">****</text>
<path d="M449.91 875.6V873.2H485.83V875.6" fill="none" stroke="#333333" stroke-width="1.75" stroke-linejoin="miter"/>
<text x="468.37" y="875" text-anchor="middle" font-size="15.6" letter-spacing="1.0" fill="#333333" stroke="#333333" stroke-width="0.25" class="s">****</text>
</g>
<text transform="translate(14.0 898.75) rotate(-90)" text-anchor="middle" font-size="15.8" fill="#262626" class="s">MDO</text>
<clipPath id="c60"><rect x="50.1" y="993.1" width="260.8" height="131.7"/></clipPath>
<g>
<rect x="50.1" y="993.1" width="260.8" height="131.7" fill="#EAEAF2"/>
<line x1="50.1" x2="310.9" y1="1088.2" y2="1088.2" stroke="#fff" stroke-width="1.15"/>
<line x1="50.1" x2="310.9" y1="1051.6" y2="1051.6" stroke="#fff" stroke-width="1.15"/>
<text x="38.8" y="1130.05" text-anchor="end" font-size="14" letter-spacing="-0.35" fill="#262626" class="s">0.0</text>
<text x="38.8" y="1093.45" text-anchor="end" font-size="14" letter-spacing="-0.35" fill="#262626" class="s">0.5</text>
<text x="38.8" y="1056.85" text-anchor="end" font-size="14" letter-spacing="-0.35" fill="#262626" class="s">1.0</text>
<rect x="61.56" y="1088.61" width="17.96" height="36.19" fill="#E8B0B6" stroke="#fff" stroke-width="0.7"/>
<rect x="79.52" y="1087.8" width="17.96" height="37" fill="#E37079" stroke="#fff" stroke-width="0.7"/>
<rect x="97.48" y="1118.69" width="17.96" height="6.11" fill="#E02D39" stroke="#fff" stroke-width="0.7"/>
<rect x="128.93" y="1063.42" width="17.96" height="61.38" fill="#E8B0B6" stroke="#fff" stroke-width="0.7"/>
<rect x="146.89" y="1095.56" width="17.96" height="29.24" fill="#E37079" stroke="#fff" stroke-width="0.7"/>
<rect x="164.85" y="1108.59" width="17.96" height="16.21" fill="#E02D39" stroke="#fff" stroke-width="0.7"/>
<rect x="196.3" y="1083.26" width="17.96" height="41.54" fill="#E8B0B6" stroke="#fff" stroke-width="0.7"/>
<rect x="214.26" y="1123.16" width="17.96" height="1.64" fill="#E37079" stroke="#fff" stroke-width="0.7"/>
<rect x="263.67" y="1062.91" width="17.96" height="61.89" fill="#E8B0B6" stroke="#fff" stroke-width="0.7"/>
<rect x="281.63" y="1107.56" width="17.96" height="17.24" fill="#E37079" stroke="#fff" stroke-width="0.7"/>
<line x1="70.54" x2="70.54" y1="1125.2" y2="1051.2" clip-path="url(#c60)" stroke="#424242" stroke-width="2.85" stroke-linecap="round"/>
<line x1="88.5" x2="88.5" y1="1089.33" y2="1085.97" clip-path="url(#c60)" stroke="#424242" stroke-width="2.85" stroke-linecap="round"/>
<line x1="106.46" x2="106.46" y1="1125.2" y2="1112.25" clip-path="url(#c60)" stroke="#424242" stroke-width="2.85" stroke-linecap="round"/>
<line x1="137.91" x2="137.91" y1="1069.28" y2="1057.35" clip-path="url(#c60)" stroke="#424242" stroke-width="2.85" stroke-linecap="round"/>
<line x1="155.87" x2="155.87" y1="1103.31" y2="1086.56" clip-path="url(#c60)" stroke="#424242" stroke-width="2.85" stroke-linecap="round"/>
<line x1="173.83" x2="173.83" y1="1112.9" y2="1103.54" clip-path="url(#c60)" stroke="#424242" stroke-width="2.85" stroke-linecap="round"/>
<line x1="205.28" x2="205.28" y1="1100.39" y2="1065.4" clip-path="url(#c60)" stroke="#424242" stroke-width="2.85" stroke-linecap="round"/>
<line x1="223.24" x2="223.24" y1="1125.2" y2="1119.35" clip-path="url(#c60)" stroke="#424242" stroke-width="2.85" stroke-linecap="round"/>
<line x1="272.65" x2="272.65" y1="1067.52" y2="1057.57" clip-path="url(#c60)" stroke="#424242" stroke-width="2.85" stroke-linecap="round"/>
<line x1="290.61" x2="290.61" y1="1116.34" y2="1098.34" clip-path="url(#c60)" stroke="#424242" stroke-width="2.85" stroke-linecap="round"/>
<path d="M137.91 1053.4V1051H155.87V1053.4" fill="none" stroke="#333333" stroke-width="1.75" stroke-linejoin="miter"/>
<text x="147.39" y="1052.8" text-anchor="middle" font-size="15.6" letter-spacing="1.0" fill="#333333" stroke="#333333" stroke-width="0.25" class="s">****</text>
<path d="M137.91 1034.8V1032.4H173.83V1034.8" fill="none" stroke="#333333" stroke-width="1.75" stroke-linejoin="miter"/>
<text x="156.37" y="1034.2" text-anchor="middle" font-size="15.6" letter-spacing="1.0" fill="#333333" stroke="#333333" stroke-width="0.25" class="s">****</text>
<path d="M272.65 1054.2V1051.8H290.61V1054.2" fill="none" stroke="#333333" stroke-width="1.75" stroke-linejoin="miter"/>
<text x="282.13" y="1053.6" text-anchor="middle" font-size="15.6" letter-spacing="1.0" fill="#333333" stroke="#333333" stroke-width="0.25" class="s">*</text>
</g>
<clipPath id="c61"><rect x="362.1" y="993.1" width="260.8" height="131.7"/></clipPath>
<g>
<rect x="362.1" y="993.1" width="260.8" height="131.7" fill="#EAEAF2"/>
<line x1="362.1" x2="622.9" y1="1088.2" y2="1088.2" stroke="#fff" stroke-width="1.15"/>
<line x1="362.1" x2="622.9" y1="1051.6" y2="1051.6" stroke="#fff" stroke-width="1.15"/>
<text x="350.8" y="1130.05" text-anchor="end" font-size="14" letter-spacing="-0.35" fill="#262626" class="s">0.0</text>
<text x="350.8" y="1093.45" text-anchor="end" font-size="14" letter-spacing="-0.35" fill="#262626" class="s">0.5</text>
<text x="350.8" y="1056.85" text-anchor="end" font-size="14" letter-spacing="-0.35" fill="#262626" class="s">1.0</text>
<rect x="373.56" y="1056.32" width="17.96" height="68.48" fill="#E8B0B6" stroke="#fff" stroke-width="0.7"/>
<rect x="391.52" y="1100.46" width="17.96" height="24.34" fill="#E37079" stroke="#fff" stroke-width="0.7"/>
<rect x="409.48" y="1120.37" width="17.96" height="4.43" fill="#E02D39" stroke="#fff" stroke-width="0.7"/>
<rect x="440.93" y="1082.53" width="17.96" height="42.27" fill="#E8B0B6" stroke="#fff" stroke-width="0.7"/>
<rect x="458.89" y="1116.57" width="17.96" height="8.23" fill="#E37079" stroke="#fff" stroke-width="0.7"/>
<rect x="476.85" y="1120.96" width="17.96" height="3.84" fill="#E02D39" stroke="#fff" stroke-width="0.7"/>
<rect x="508.3" y="1072.28" width="17.96" height="52.52" fill="#E8B0B6" stroke="#fff" stroke-width="0.7"/>
<rect x="526.26" y="1114.52" width="17.96" height="10.28" fill="#E37079" stroke="#fff" stroke-width="0.7"/>
<rect x="575.67" y="1091.39" width="17.96" height="33.41" fill="#E8B0B6" stroke="#fff" stroke-width="0.7"/>
<rect x="593.63" y="1116.79" width="17.96" height="8.01" fill="#E37079" stroke="#fff" stroke-width="0.7"/>
<line x1="382.54" x2="382.54" y1="1061.15" y2="1051.49" clip-path="url(#c61)" stroke="#424242" stroke-width="2.85" stroke-linecap="round"/>
<line x1="400.5" x2="400.5" y1="1106.09" y2="1097.17" clip-path="url(#c61)" stroke="#424242" stroke-width="2.85" stroke-linecap="round"/>
<line x1="418.46" x2="418.46" y1="1124.47" y2="1117.67" clip-path="url(#c61)" stroke="#424242" stroke-width="2.85" stroke-linecap="round"/>
<line x1="449.91" x2="449.91" y1="1088.01" y2="1077.55" clip-path="url(#c61)" stroke="#424242" stroke-width="2.85" stroke-linecap="round"/>
<line x1="467.87" x2="467.87" y1="1119.12" y2="1113.49" clip-path="url(#c61)" stroke="#424242" stroke-width="2.85" stroke-linecap="round"/>
<line x1="485.83" x2="485.83" y1="1122.93" y2="1118.32" clip-path="url(#c61)" stroke="#424242" stroke-width="2.85" stroke-linecap="round"/>
<line x1="517.28" x2="517.28" y1="1084.21" y2="1062.11" clip-path="url(#c61)" stroke="#424242" stroke-width="2.85" stroke-linecap="round"/>
<line x1="535.24" x2="535.24" y1="1118.61" y2="1109.32" clip-path="url(#c61)" stroke="#424242" stroke-width="2.85" stroke-linecap="round"/>
<line x1="584.65" x2="584.65" y1="1115.1" y2="1065.55" clip-path="url(#c61)" stroke="#424242" stroke-width="2.85" stroke-linecap="round"/>
<line x1="602.61" x2="602.61" y1="1119.27" y2="1114.01" clip-path="url(#c61)" stroke="#424242" stroke-width="2.85" stroke-linecap="round"/>
<path d="M449.91 1073.7V1071.3H467.87V1073.7" fill="none" stroke="#333333" stroke-width="1.75" stroke-linejoin="miter"/>
<text x="459.39" y="1073.1" text-anchor="middle" font-size="15.6" letter-spacing="1.0" fill="#333333" stroke="#333333" stroke-width="0.25" class="s">****</text>
<path d="M449.91 1054.7V1052.3H485.83V1054.7" fill="none" stroke="#333333" stroke-width="1.75" stroke-linejoin="miter"/>
<text x="468.37" y="1054.1" text-anchor="middle" font-size="15.6" letter-spacing="1.0" fill="#333333" stroke="#333333" stroke-width="0.25" class="s">****</text>
<path d="M517.28 1058.4V1056H535.24V1058.4" fill="none" stroke="#333333" stroke-width="1.75" stroke-linejoin="miter"/>
<text x="526.76" y="1057.8" text-anchor="middle" font-size="15.6" letter-spacing="1.0" fill="#333333" stroke="#333333" stroke-width="0.25" class="s">**</text>
</g>
<text transform="translate(14.0 1060.4) rotate(-90)" text-anchor="middle" font-size="15.8" fill="#262626" class="s">TCS</text>
<text x="180.5" y="16" text-anchor="middle" font-size="19.7" fill="#262626" class="s">HOSBOT</text>
<text x="492.5" y="16" text-anchor="middle" font-size="19.7" fill="#262626" class="s">TIAGo</text>
<text x="88.5" y="1150.6" text-anchor="middle" font-size="20.5" fill="#262626" class="m">NO</text>
<text x="155.87" y="1150.6" text-anchor="middle" font-size="20.5" fill="#262626" class="m">SO</text>
<text x="223.24" y="1150.6" text-anchor="middle" font-size="20.5" fill="#262626" class="m">MO</text>
<text x="290.61" y="1150.6" text-anchor="middle" font-size="20.5" fill="#262626" class="m">CE</text>
<text x="400.5" y="1150.6" text-anchor="middle" font-size="20.5" fill="#262626" class="m">NO</text>
<text x="467.87" y="1150.6" text-anchor="middle" font-size="20.5" fill="#262626" class="m">SO</text>
<text x="535.24" y="1150.6" text-anchor="middle" font-size="20.5" fill="#262626" class="m">MO</text>
<text x="602.61" y="1150.6" text-anchor="middle" font-size="20.5" fill="#262626" class="m">CE</text>
<rect x="675.2" y="17.3" width="71" height="70.2" rx="2.6" fill="#EEEEF5" stroke="#D4D4D8" stroke-width="1"/>
<rect x="681.9" y="23.9" width="30.2" height="10.1" fill="#E8B0B6" stroke="#fff" stroke-width="0.7"/>
<text x="725.3" y="34.4" font-size="14.3" fill="#262626" class="m">v<tspan font-size="10.01" dy="2.6" dx="0.9" font-style="normal">0</tspan></text>
<rect x="681.9" y="45.95" width="30.2" height="10.1" fill="#E37079" stroke="#fff" stroke-width="0.7"/>
<text x="725.3" y="56.45" font-size="14.3" fill="#262626" class="m">v<tspan font-size="10.01" dy="2.6" dx="0.9" font-style="normal">1</tspan></text>
<rect x="681.9" y="68" width="30.2" height="10.1" fill="#E02D39" stroke="#fff" stroke-width="0.7"/>
<text x="725.3" y="78.5" font-size="14.3" fill="#262626" class="m">v<tspan font-size="10.01" dy="2.6" dx="0.9" font-style="normal">2</tspan></text>
</svg>
</body></html>
